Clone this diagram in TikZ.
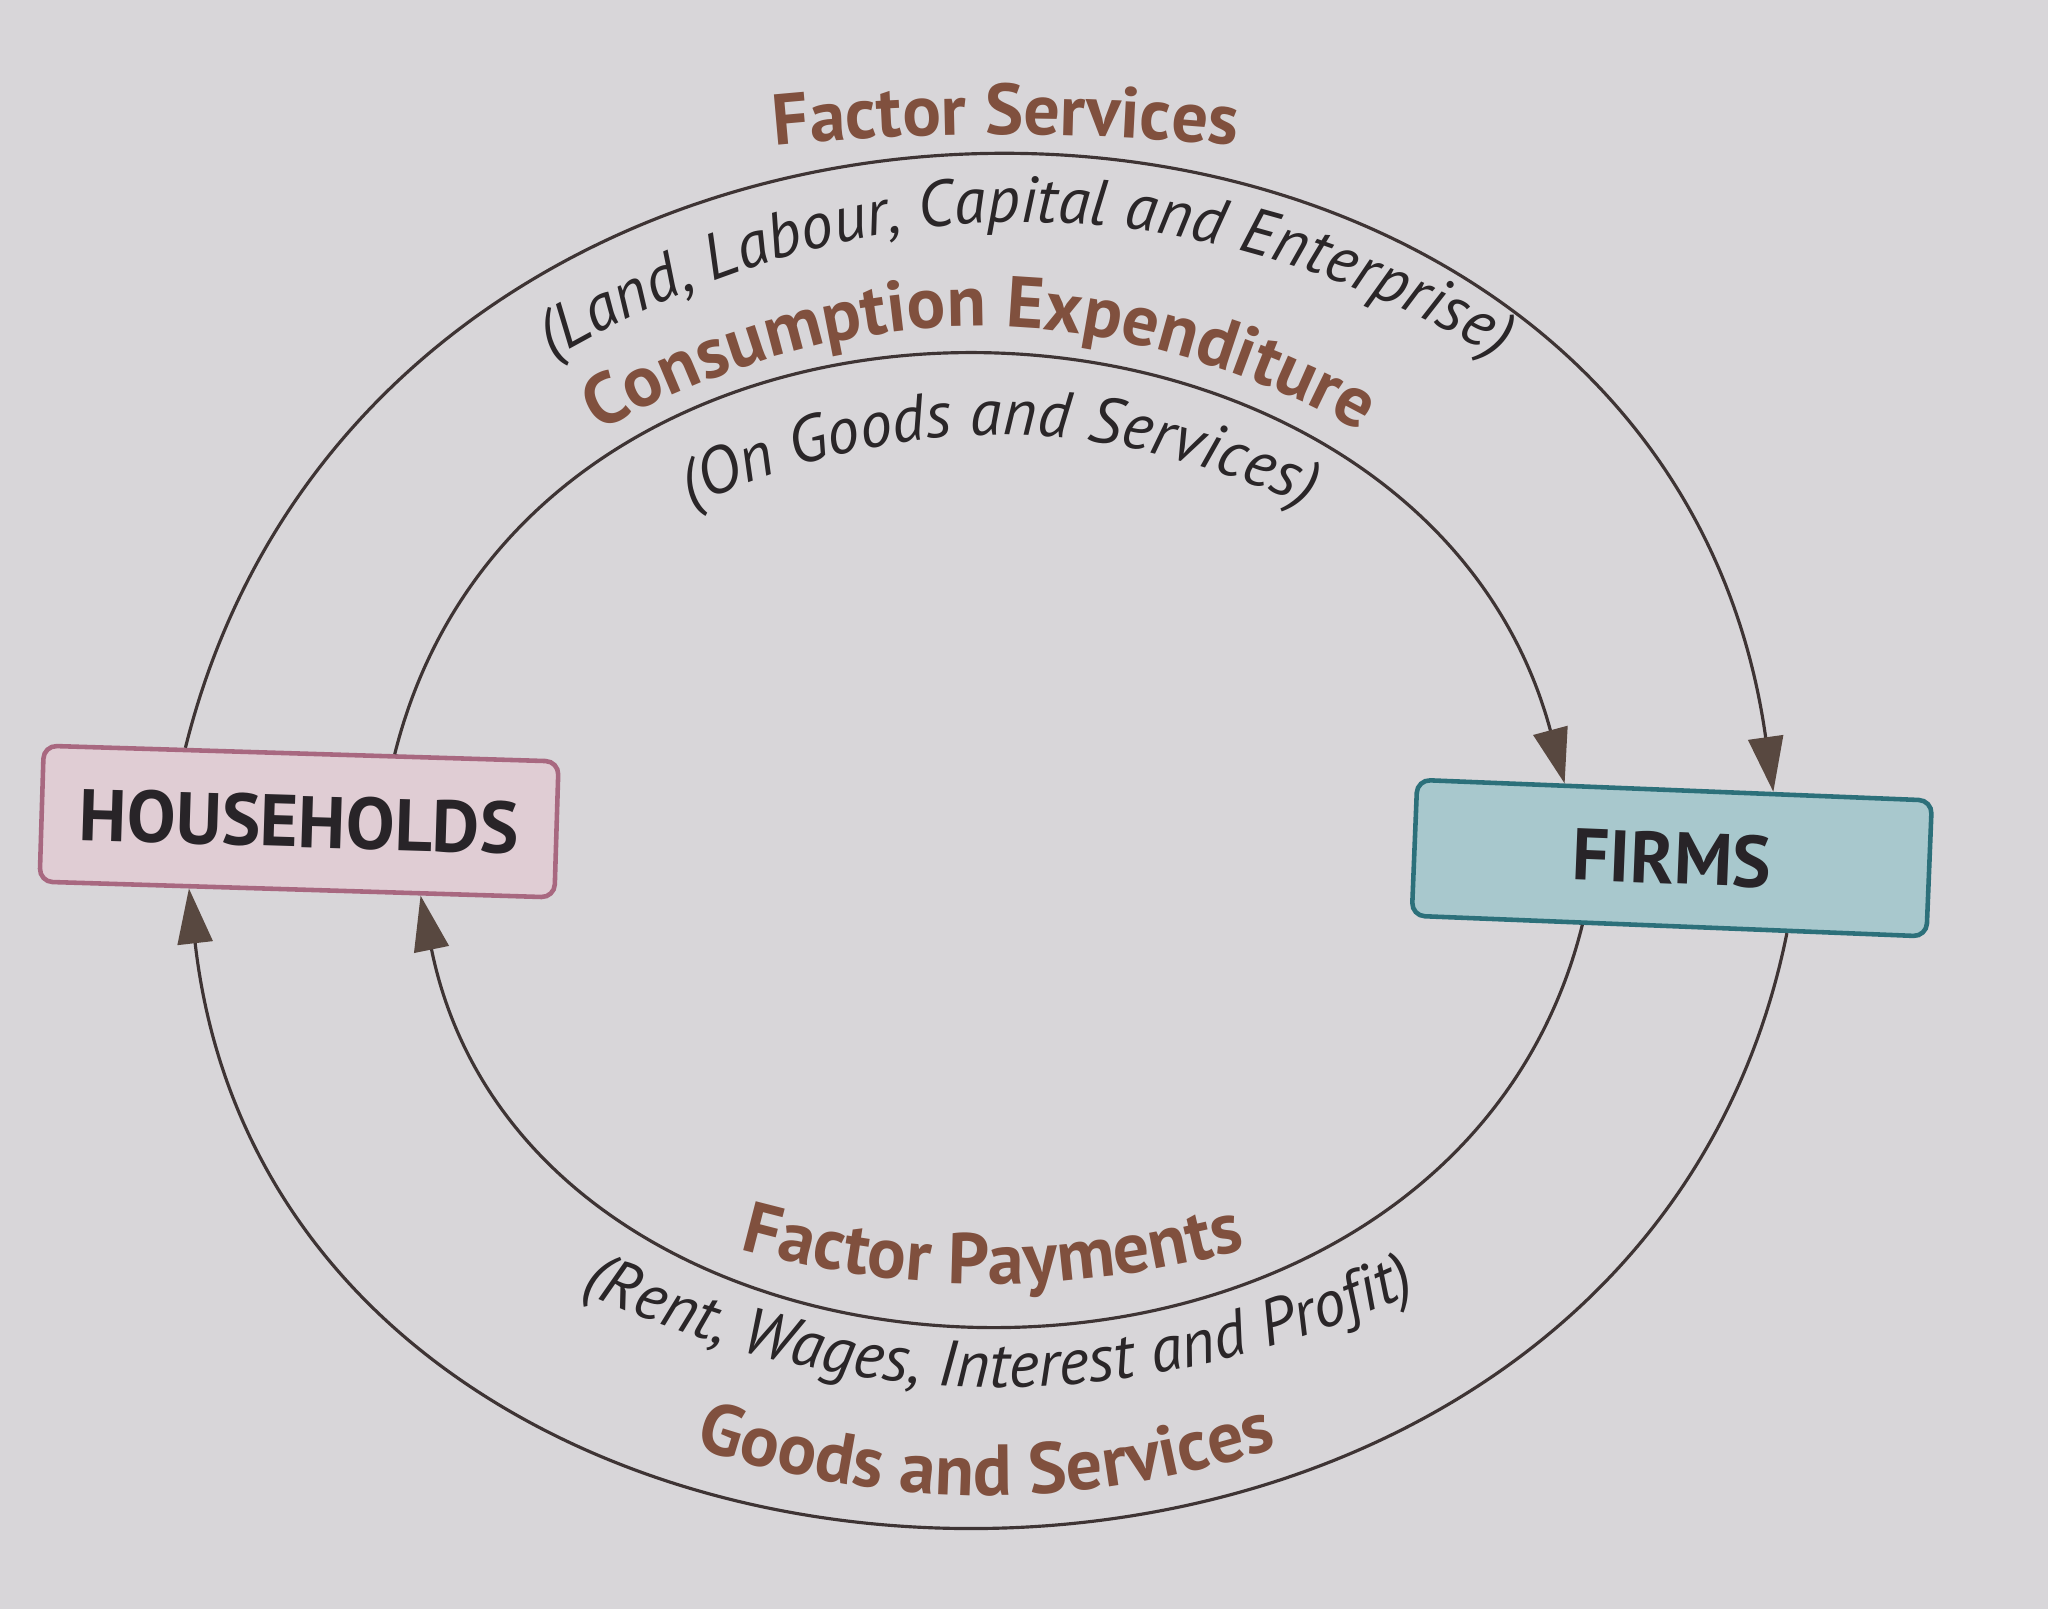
\documentclass[tikz,border=0pt]{standalone}
\usepackage{fontspec}
\setmainfont{PT Sans}
\usetikzlibrary{arrows.meta,calc,decorations.text}

\definecolor{paper}{RGB}{216,214,217}
\definecolor{hhfill}{RGB}{224,205,212}
\definecolor{hhline}{RGB}{168,104,128}
\definecolor{fmfill}{RGB}{168,200,205}
\definecolor{fmline}{RGB}{44,112,122}
\definecolor{boxtext}{RGB}{40,36,40}
\definecolor{flowline}{RGB}{62,52,52}
\definecolor{tipfill}{RGB}{88,72,64}
\definecolor{headbrown}{RGB}{128,80,62}
\definecolor{notetext}{RGB}{42,38,40}

\newcommand{\headfont}{\fontsize{20.5}{24}\selectfont\bfseries}
\newcommand{\notefont}{\fontsize{18.5}{22}\selectfont\itshape}

\begin{document}
\begin{tikzpicture}[x=0.1306mm, y=0.1306mm,
  hhbox/.style={rectangle, rounded corners=1.3mm, draw=hhline, fill=hhfill, line width=1.3pt, minimum width=51.5mm, minimum height=13.6mm, inner sep=0pt, text=boxtext, font=\fontsize{20.8}{24}\selectfont\bfseries},
  fmbox/.style={hhbox, draw=fmline, fill=fmfill},
  flow/.style={draw=flowline, line width=0.9pt, -{Triangle[length=5.5mm, width=3.5mm, color=tipfill]}},
  head/.style={decorate, decoration={text along path, text align=center, text color=headbrown, text={|\headfont|#1}}},
  note/.style={decorate, decoration={text along path, text align=center, text color=notetext, text={|\notefont|#1}}}]

    \fill[paper] (0,0) rectangle (1568,1232);
    \useasboundingbox (0,0) rectangle (1568,1232);

    % the two sectors
    \node[hhbox, rotate=-1.75] (hh) at (229,603) {HOUSEHOLDS};
    \node[fmbox, rotate=-2.3] (fm) at (1280,575) {FIRMS};

    % where the flows meet the boxes
    \node[coordinate] (hhOutTop) at ($(hh.north west)!0.277!(hh.north east)$) {};
    \node[coordinate] (hhInTop) at ($(hh.north west)!0.68!(hh.north east)$) {};
    \node[coordinate] (hhOutBot) at ($(hh.south west)!0.292!(hh.south east)$) {};
    \node[coordinate] (hhInBot) at ($(hh.south west)!0.738!(hh.south east)$) {};
    \node[coordinate] (fmInTop) at ($(fm.north west)!0.288!(fm.north east)$) {};
    \node[coordinate] (fmOutTop) at ($(fm.north west)!0.69!(fm.north east)$) {};
    \node[coordinate] (fmInBot) at ($(fm.south west)!0.333!(fm.south east)$) {};
    \node[coordinate] (fmOutBot) at ($(fm.south west)!0.727!(fm.south east)$) {};

    \draw[flow] (hhOutTop) .. controls +(76:635) and +(98:635) .. (fmOutTop);
    \draw[flow] (hhInTop) .. controls +(76:432) and +(105:432) .. (fmInTop);
    \draw[flow] (fmInBot) .. controls +(256:430) and +(281.5:430) .. (hhInBot);
    \draw[flow] (fmOutBot) .. controls +(258.6:632) and +(276.5:632) .. (hhOutBot);

    % labels along the loops
    \path[head={Factor Services}] (450,1101) parabola bend (770,1129) (1090,1101);
    \path[note={(Land, Labour, Capital and Enterprise)}] (390,937) parabola bend (785,1062) (1180,937);
    \path[head={Consumption Expenditure}] (390,859) parabola bend (750,982) (1110,859);
    \path[note={(On Goods and Services)}] (440,793) parabola bend (765,899) (1090,793);
    \path[head={Factor Payments}] (450,318) parabola bend (760,249) (1070,318);
    \path[note={(Rent, Wages, Interest and Profit)}] (400,266) parabola bend (765,170) (1130,266);
    \path[head={Goods and Services}] (430,166) parabola bend (755,87) (1080,166);
\end{tikzpicture}
\end{document}
